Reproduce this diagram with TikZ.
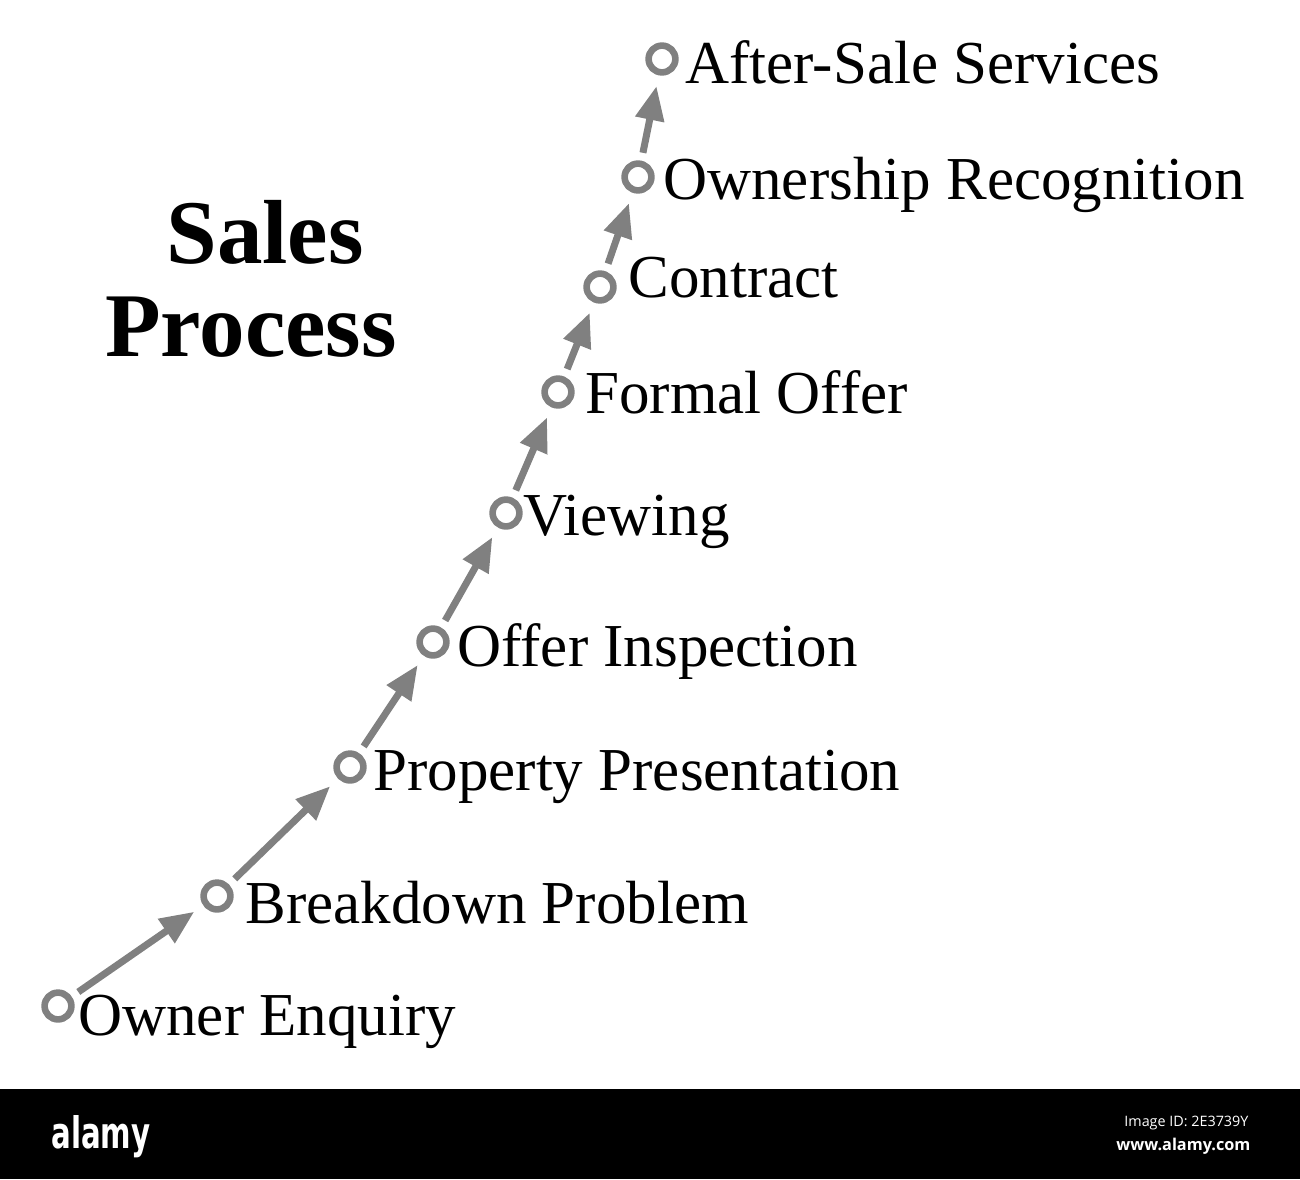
\documentclass[tikz,border=0pt]{standalone}
\usepackage{fontspec}
\setmainfont{Liberation Serif}
\newfontfamily\wmfont{DejaVu Sans Condensed}
\newfontfamily\idfont{Open Sans}
\usetikzlibrary{arrows.meta}
\begin{document}
\begin{tikzpicture}[x=0.5pt,y=-0.5pt,
  ring/.style={circle,draw=gray,line width=3.3pt,minimum size=13.4pt,inner sep=0pt},
  stepline/.style={draw=gray,line width=3.5pt,-{Triangle[length=17pt,width=14pt]},shorten <=4pt,shorten >=5.5pt},
  lbl/.style={anchor=base west,inner sep=0pt,font=\fontsize{30.5pt}{36pt}\selectfont},
  ttl/.style={anchor=base,inner sep=0pt,font=\fontsize{45.5pt}{50pt}\selectfont\bfseries},
  wm/.style={inner sep=0pt,text=white}]
\useasboundingbox (0,0) rectangle (1300,1179);
% circles
\node[ring] (c1) at (58,1006) {};
\node[ring] (c2) at (217,896) {};
\node[ring] (c3) at (350,767) {};
\node[ring] (c4) at (433,642) {};
\node[ring] (c5) at (506,513) {};
\node[ring] (c6) at (558,392) {};
\node[ring] (c7) at (600,287) {};
\node[ring] (c8) at (638,177) {};
\node[ring] (c9) at (662,59) {};
% arrows
\draw[stepline] (c1) -- (c2);
\draw[stepline] (c2) -- (c3);
\draw[stepline] (c3) -- (c4);
\draw[stepline] (c4) -- (c5);
\draw[stepline] (c5) -- (c6);
\draw[stepline] (c6) -- (c7);
\draw[stepline] (c7) -- (c8);
\draw[stepline] (c8) -- (c9);
% labels
\node[lbl] (t1) at (78,1035) {Owner Enquiry};
\node[lbl] (t2) at (245,923) {Breakdown Problem};
\node[lbl] (t3) at (373,790) {Property Presentation};
\node[lbl] (t4) at (457,666) {Offer Inspection};
\node[lbl] (t5) at (523,535) {Viewing};
\node[lbl] (t6) at (585,413) {Formal Offer};
\node[lbl] (t7) at (628,297) {Contract};
\node[lbl] (t8) at (663,199) {Ownership Recognition};
\node[lbl] (t9) at (685,83) {After-Sale Services};
% title
\node[ttl] (s1) at (265,263) {Sales};
\node[ttl] (s2) at (251,356) {Process};
% watermark band
\fill[black] (0,1089) rectangle (1300,1179);
\node[wm,anchor=base west] (w1) at (51,1148) {\resizebox{49.5pt}{16.5pt}{\wmfont\bfseries alamy}};
\node[wm,anchor=base west] (w2) at (1124,1126) {\resizebox{62pt}{!}{\idfont Image ID: 2E3739Y}};
\node[wm,anchor=base west] (w3) at (1116,1150) {\resizebox{67pt}{!}{\idfont\bfseries www.alamy.com}};
\end{tikzpicture}
\end{document}
